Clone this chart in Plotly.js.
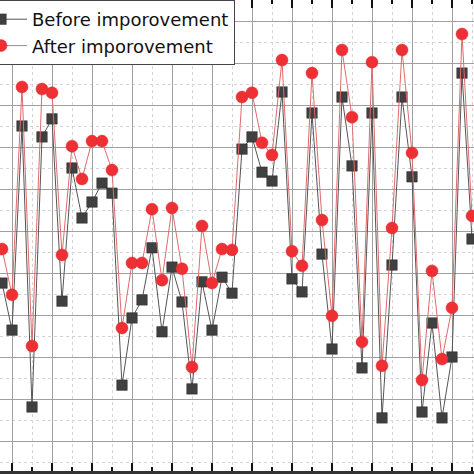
<!DOCTYPE html>
<html>
<head>
<meta charset="utf-8">
<script src="https://cdn.plot.ly/plotly-3.0.1.min.js"></script>
<style>
html,body{margin:0;padding:0;overflow:hidden;background:#fff;width:474px;height:474px;position:relative;}
#chart{position:absolute;left:-40px;top:0;width:514px;height:474px;}
</style>
</head>
<body>
<div id="chart"></div>
<script>
// Sample index
var sampleIdx = [3,4,5,6,7,8,9,10,11,12,13,14,15,16,17,18,19,20,21,22,23,24,25,26,
                 27,28,29,30,31,32,33,34,35,36,37,38,39,40,41,42,43,44,45,46,47,48,49,50];
// Before improvement (squares)
var beforeVals = [37.6,26.4,75.0,8.1,72.4,76.7,33.3,65.0,53.1,56.9,61.4,59.0,
                  13.3,29.3,33.6,46.0,26.0,41.4,33.1,12.4,37.9,26.4,39.0,35.2,
                  69.5,72.4,64.0,61.9,83.1,38.6,35.5,78.1,44.5,21.9,81.9,65.5,
                  17.4,78.1,5.5,41.9,81.9,62.9,6.9,28.1,5.5,20.0,87.6,48.1];
// After improvement (circles)
var afterVals = [45.7,34.8,84.3,22.6,83.8,82.9,44.3,70.2,62.4,71.4,71.4,64.5,
                 26.9,42.4,42.4,55.2,38.3,55.5,41.0,17.6,51.2,37.6,45.7,45.5,
                 81.9,82.9,71.0,68.1,90.7,45.2,41.7,87.6,52.6,29.8,93.1,77.1,
                 23.6,90.2,17.9,50.7,93.1,68.6,14.5,40.5,19.5,31.7,96.9,53.6];
var seriesNames = ['Before imporovement', 'After imporovement'];

var traces = [
  {
    x: sampleIdx, y: beforeVals, name: seriesNames[0],
    type: 'scatter', mode: 'lines+markers',
    line: {color: '#555555', width: 1},
    marker: {symbol: 'square', size: 10.5, color: '#404040', line: {color: '#2a2a2a', width: 0.5}}
  },
  {
    x: sampleIdx, y: afterVals, name: seriesNames[1],
    type: 'scatter', mode: 'lines+markers',
    line: {color: '#e06a6a', width: 1},
    marker: {symbol: 'circle', size: 12, color: '#ee3035', line: {color: '#e02a2f', width: 0.5}}
  },
  {
    x: sampleIdx, y: beforeVals, xaxis: 'x2', yaxis: 'y',
    type: 'scatter', mode: 'none', showlegend: false, hoverinfo: 'skip'
  }
];

var layout = {
  width: 514, height: 474,
  margin: {l: 40, r: 0, t: 0, b: 3, pad: 0},
  paper_bgcolor: '#ffffff', plot_bgcolor: '#ffffff',
  showlegend: true,
  xaxis: {
    range: [2.8, 50.2], tick0: 4, dtick: 4,
    showgrid: true, gridcolor: '#a0a0a0', gridwidth: 1,
    showline: true, linecolor: '#333333', linewidth: 3,
    ticks: 'inside', ticklen: 8, tickwidth: 2, tickcolor: '#111111',
    showticklabels: false, zeroline: false,
    minor: {dtick: 2, tick0: 4, ticks: 'inside', ticklen: 4, tickwidth: 2, tickcolor: '#111111',
            showgrid: true, gridcolor: '#d4d4d4', griddash: 'dot', gridwidth: 1}
  },
  xaxis2: {
    overlaying: 'x', side: 'top', matches: 'x',
    range: [2.8, 50.2], tick0: 4, dtick: 4,
    showgrid: false, showline: false, zeroline: false,
    ticks: 'inside', ticklen: 8, tickwidth: 2, tickcolor: '#111111',
    showticklabels: false,
    minor: {dtick: 2, tick0: 4, ticks: 'inside', ticklen: 4, tickwidth: 2, tickcolor: '#111111', showgrid: false}
  },
  yaxis: {
    range: [-7.143, 105.0], tick0: 0, dtick: 10,
    showgrid: true, gridcolor: '#a0a0a0', gridwidth: 1,
    showline: false, ticks: '', showticklabels: false, zeroline: false,
    minor: {dtick: 5, tick0: 0, showgrid: true, gridcolor: '#d4d4d4', griddash: 'dot', gridwidth: 1}
  },
  legend: {
    x: -31/474, xanchor: 'left', y: 1.0, yanchor: 'top',
    bgcolor: '#ffffff', bordercolor: '#444444', borderwidth: 1,
    font: {family: 'DejaVu Sans, sans-serif', size: 18, color: '#111111'},
    tracegroupgap: 0, itemwidth: 52
  }
};

Plotly.newPlot('chart', traces, layout, {displayModeBar: false, staticPlot: true});
</script>
</body>
</html>
